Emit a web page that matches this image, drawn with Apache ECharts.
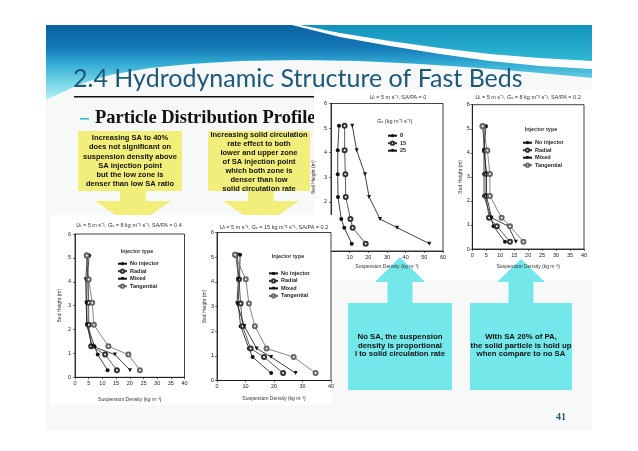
<!DOCTYPE html>
<html>
<head>
<meta charset="utf-8">
<script src="https://cdn.jsdelivr.net/npm/echarts@6/dist/echarts.min.js"></script>
<style>
  html, body { margin: 0; padding: 0; background: #fff; }
  #slide { width: 638px; height: 451px; }
</style>
</head>
<body>
<div id="slide"></div>
<script>
// probe heights in the riser (m), shared by every profile
var heights = [5.1, 4.1, 3.12, 2.2, 1.3, 0.95, 0.3];

// chart A: SA/PA = 0, three solid circulation rates
var gs8  = [4.3, 3.6, 3.6, 3.75, 5.5, 7.1, 11.1];
var gs15 = [7.3, 7.3, 7.7, 7.9, 10.4, 11.6, 18.6];
var gs25 = [11.4, 13.75, 18.2, 20.4, 26.25, 35.4, 52.7];

// chart B: Gs = 15, SA/PA = 0.2
var noInjB  = [8.1, 7.9, 7.4, 8.3, 11.2, 12.5, 19.0];
var radialB = [6.5, 7.7, 8.3, 9.0, 11.8, 16.5, 23.2];
var mixedB  = [7.2, 7.5, 7.0, 9.6, 13.9, 19.0, 27.6];
var tangB   = [6.3, 10.1, 11.2, 13.3, 17.4, 26.9, 34.6];

// chart C: Gs = 8, SA/PA = 0.4
var noInjC  = [5.2, 4.4, 4.3, 4.4, 7.1, 8.3, 11.9];
var radialC = [4.3, 4.8, 5.0, 5.0, 5.9, 11.0, 15.3];
var mixedC  = [4.6, 3.9, 4.1, 4.3, 6.3, 14.6, 20.1];
var tangC   = [4.3, 5.0, 6.3, 6.9, 12.2, 19.5, 23.7];

// chart D: Gs = 8, SA/PA = 0.2
var noInjD  = [4.9, 4.2, 4.2, 4.2, 6.7, 7.6, 11.7];
var radialD = [3.7, 4.5, 4.9, 4.9, 6.0, 8.8, 13.5];
var mixedD  = [4.2, 4.2, 5.1, 5.1, 6.9, 12.9, 15.6];
var tangD   = [3.7, 5.4, 6.3, 6.3, 10.5, 13.5, 18.3];

var injectorNames = ['No injector', 'Radial', 'Mixed', 'Tangential'];
var gsNames = ['8', '15', '25'];
var saLevel = 1.2;

var FONT = 'Liberation Sans';
var chart = echarts.init(document.getElementById('slide'));

function pts(vals) {
  return vals.map(function (v, i) { return [v, heights[i]]; });
}

var kinds = {
  filled:   { symbol: 'circle', color: '#111' },
  open:     { symbol: 'emptyCircle', color: '#333' },
  triangle: { symbol: 'triangle', rotate: 180, color: '#111' },
  openGrey: { symbol: 'emptyCircle', color: '#666' }
};

function line(name, gi, vals, kind, z, saText) {
  var s = {
    name: name, type: 'line', xAxisIndex: gi, yAxisIndex: gi,
    data: pts(vals), symbol: kind.symbol, symbolSize: 4, symbolRotate: kind.rotate || 0,
    lineStyle: { color: kind.color, width: 0.8 },
    itemStyle: { color: kind.color, borderWidth: 0.8 },
    z: z, silent: true, animation: false
  };
  if (saText) {
    s.markLine = {
      silent: true, symbol: 'none', animation: false,
      lineStyle: { color: '#8c8c8c', width: 0.8, type: 'solid' },
      label: { position: 'insideEndTop', formatter: saText, fontSize: 4.5, color: '#555', fontFamily: FONT, distance: 1 },
      data: [{ yAxis: saLevel }]
    };
  }
  return s;
}

function xAxis(gi, max, step, z, gap, extra) {
  return Object.assign({
    gridIndex: gi, type: 'value', min: 0, max: max, interval: step, z: z,
    axisLine: { show: true, onZero: false, lineStyle: { color: '#111', width: 0.8 } },
    axisTick: { show: true, length: 2, lineStyle: { color: '#111', width: 0.6 } },
    splitLine: { show: false },
    axisLabel: { fontSize: 5.5, color: '#222', margin: 3, fontFamily: FONT },
    name: 'Suspension Density (kg m⁻³)', nameLocation: 'middle', nameGap: gap,
    nameTextStyle: { fontSize: 5, color: '#333', fontFamily: FONT }
  }, extra || {});
}

function yAxis(gi, z, margin, gap, extra) {
  return Object.assign({
    gridIndex: gi, type: 'value', min: 0, max: 6, interval: 1, z: z,
    axisLine: { show: true, onZero: false, lineStyle: { color: '#111', width: 0.8 } },
    axisTick: { show: true, length: 2, lineStyle: { color: '#111', width: 0.6 } },
    splitLine: { show: false },
    axisLabel: { fontSize: 5.5, color: '#222', margin: margin, fontFamily: FONT },
    name: 'Bed Height (m)', nameLocation: 'middle', nameRotate: 90, nameGap: gap,
    nameTextStyle: { fontSize: 5, color: '#333', fontFamily: FONT }
  }, extra || {});
}

function legendAt(names, left, top) {
  return {
    data: names, left: left, top: top, orient: 'vertical', padding: 0,
    itemWidth: 9, itemHeight: 4, itemGap: 1.5, selectedMode: false, z: 13,
    textStyle: { fontSize: 5.5, fontWeight: 'bold', color: '#222', fontFamily: FONT, padding: [0, 0, 0, -2] }
  };
}

function grid(left, top, width, height, z) {
  return { left: left, top: top, width: width, height: height, show: true,
    borderColor: '#111', borderWidth: 0.8, backgroundColor: 'transparent', z: z };
}

// small text helper for the plot captions
function label(text, x, y, opts) {
  return {
    type: 'text', z: 13, silent: true,
    style: Object.assign({
      text: text, x: x, y: y, fontSize: 5.5, fontFamily: FONT, fill: '#333',
      align: 'center', verticalAlign: 'middle',
      rich: {
        i: { fontStyle: 'italic', fontSize: 5.5, fontFamily: FONT, fill: '#333' },
        s: { fontSize: 4, fontFamily: FONT, fill: '#333', verticalAlign: 'bottom' }
      }
    }, opts || {})
  };
}

function arrowUp(cx, tip, base, bottom, shaftHalf, headHalf) {
  return [[cx, tip], [cx + headHalf, base], [cx + shaftHalf, base], [cx + shaftHalf, bottom],
          [cx - shaftHalf, bottom], [cx - shaftHalf, base], [cx - headHalf, base]];
}
function arrowDown(cx, top, base, tip, shaftHalf, headHalf) {
  return [[cx - shaftHalf, top], [cx + shaftHalf, top], [cx + shaftHalf, base], [cx + headHalf, base],
          [cx, tip], [cx - headHalf, base], [cx - shaftHalf, base]];
}

// header band outline, drawn as plain polygons
var bandPts = [[46, 25], [592, 25], [592, 78], [540, 73], [480, 68], [420, 64], [360, 61], [300, 60],
  [240, 61], [190, 64], [150, 68], [110, 75], [80, 84], [46, 100]];
var tealPts = [[300, 25], [592, 25], [592, 61], [540, 58], [490, 54], [440, 48], [390, 41], [340, 33]];
var swooshPts = [[292, 25], [300, 25], [340, 33], [390, 41], [440, 48], [490, 54], [540, 58], [592, 61],
  [592, 69], [540, 66], [490, 61], [440, 54], [390, 46], [340, 37]];

function vgrad(stops) {
  return { type: 'linear', x: 0, y: 0, x2: 0, y2: 1,
    colorStops: stops.map(function (s) { return { offset: s[0], color: s[1] }; }) };
}

var YELLOW = '#f2ee7c';
var CYAN = '#74e7eb';

var graphics = [
  { type: 'rect', z: 0, silent: true, shape: { x: 46, y: 25, width: 546, height: 405 }, style: { fill: '#f7f8f8' } },
  { type: 'polygon', z: 1, silent: true, shape: { points: bandPts },
    style: { fill: vgrad([[0, '#0b62a0'], [0.3, '#1479b6'], [0.5, '#2fa9d2'], [0.75, '#6fd3e6'], [1, '#b5f0f6']]) } },
  { type: 'polygon', z: 2, silent: true, shape: { points: tealPts },
    style: { fill: vgrad([[0, '#1391bd'], [1, '#2fb9d4']]) } },
  { type: 'polygon', z: 3, silent: true, shape: { points: swooshPts }, style: { fill: '#ffffff' } },
  { type: 'text', z: 4, silent: true, style: { text: '2.4 Hydrodynamic Structure of Fast Beds', x: 73, y: 79,
    fontSize: 25, fontFamily: 'Lato', fill: '#1d5876', verticalAlign: 'middle' } },
  { type: 'rect', z: 4, silent: true, shape: { x: 74, y: 96, width: 242, height: 1.4 }, style: { fill: '#111' } },
  { type: 'rect', z: 4, silent: true, shape: { x: 80, y: 118, width: 9, height: 1.6 }, style: { fill: '#35c3d6' } },
  { type: 'text', z: 4, silent: true, style: { text: 'Particle Distribution Profile', x: 95, y: 118,
    fontSize: 18.5, fontWeight: 'bold', fontFamily: 'Liberation Serif', fill: '#111', verticalAlign: 'middle' } },

  // yellow call-outs
  { type: 'rect', z: 5, silent: true, shape: { x: 78, y: 131, width: 104, height: 60 }, style: { fill: YELLOW } },
  { type: 'polygon', z: 5, silent: true, shape: { points: arrowDown(133, 191, 201, 227, 13, 38) }, style: { fill: YELLOW } },
  { type: 'text', z: 5, silent: true, style: { text: 'Increasing SA to 40%\ndoes not significant on\nsuspension density above\nSA injection point\nbut the low zone is\ndenser than low SA ratio',
    x: 130, y: 161, align: 'center', verticalAlign: 'middle', lineHeight: 9.1, fontSize: 7.5, fontWeight: 'bold', fontFamily: FONT, fill: '#111' } },
  { type: 'rect', z: 5, silent: true, shape: { x: 208, y: 131, width: 102, height: 60 }, style: { fill: YELLOW } },
  { type: 'polygon', z: 5, silent: true, shape: { points: arrowDown(261, 191, 201, 227, 13, 38) }, style: { fill: YELLOW } },
  { type: 'text', z: 5, silent: true, style: { text: 'Increasing solid circulation\nrate effect to both\nlower and upper zone\nof SA injection point\nwhich both zone is\ndenser than low\nsolid circulation rate',
    x: 259, y: 162.2, align: 'center', verticalAlign: 'middle', lineHeight: 9.05, fontSize: 7.5, fontWeight: 'bold', fontFamily: FONT, fill: '#111' } },

  // plot backgrounds (pasted pictures)
  { type: 'rect', z: 6, silent: true, shape: { x: 314, y: 90, width: 146, height: 190 }, style: { fill: '#fff' } },
  { type: 'rect', z: 6, silent: true, shape: { x: 460, y: 90, width: 132, height: 190 }, style: { fill: '#fff' } },
  { type: 'rect', z: 6, silent: true, shape: { x: 50, y: 215, width: 150, height: 190 }, style: { fill: '#fff' } },
  { type: 'rect', z: 9, silent: true, shape: { x: 200, y: 215, width: 132, height: 190 }, style: { fill: '#fff' } },

  // cyan call-outs
  { type: 'rect', z: 12, silent: true, shape: { x: 348, y: 303, width: 104, height: 87 }, style: { fill: CYAN } },
  { type: 'polygon', z: 12, silent: true, shape: { points: arrowUp(400, 257, 282, 303, 12.5, 25) }, style: { fill: CYAN } },
  { type: 'text', z: 13, silent: true, style: { text: 'No SA, the suspension\ndensity is proportional\nl to solid circulation rate',
    x: 400, y: 345.5, align: 'center', verticalAlign: 'middle', lineHeight: 8.8, fontSize: 7.8, fontWeight: 'bold', fontFamily: FONT, fill: '#111' } },
  { type: 'rect', z: 12, silent: true, shape: { x: 470, y: 303, width: 102, height: 87 }, style: { fill: CYAN } },
  { type: 'polygon', z: 12, silent: true, shape: { points: arrowUp(521, 259, 282, 303, 12.5, 24) }, style: { fill: CYAN } },
  { type: 'text', z: 13, silent: true, style: { text: 'With SA 20% of PA,\nthe solid particle is hold up\nwhen compare to no SA',
    x: 521, y: 345.5, align: 'center', verticalAlign: 'middle', lineHeight: 8.8, fontSize: 7.8, fontWeight: 'bold', fontFamily: FONT, fill: '#111' } },

  // plot captions
  label('{i|U}{s|t} = 5 m s⁻¹, SA/PA = 0', 398, 97),
  label('{i|U}{s|t} = 5 m s⁻¹, {i|G}{s|s} = 8 kg m⁻² s⁻¹, SA/PA = 0.2', 528, 97),
  label('{i|U}{s|t} = 5 m s⁻¹, {i|G}{s|s} = 8 kg m⁻² s⁻¹, SA/PA = 0.4', 129, 225),
  label('{i|U}{s|t} = 5 m s⁻¹, {i|G}{s|s} = 15 kg m⁻² s⁻¹, SA/PA = 0.2', 274, 227),
  label('{i|G}{s|s} (kg m⁻² s⁻¹)', 377, 121, { align: 'left' }),
  label('Injector type', 541, 129, { fontWeight: 'bold' }),
  label('Injector type', 137, 251, { fontWeight: 'bold' }),
  label('Injector type', 288, 256, { fontWeight: 'bold' }),

  { type: 'text', z: 13, silent: true, style: { text: '41', x: 561, y: 417, align: 'center', verticalAlign: 'middle',
    fontSize: 10, fontWeight: 'bold', fontFamily: 'Liberation Serif', fill: '#2a5a70' } }
];

var option = {
  animation: false,
  backgroundColor: '#fff',
  graphic: { elements: graphics },
  grid: [
    grid(331, 103.5, 112, 147.5, 7),       // A
    grid(217, 232.5, 114, 148, 10),        // B
    grid(75, 234, 109.5, 143.3, 10),       // C
    grid(472.3, 104.7, 111.7, 144.3, 10)   // D
  ],
  xAxis: [
    xAxis(0, 60, 10, 13, 13, { axisLabel: { fontSize: 5.5, color: '#222', margin: 3, fontFamily: FONT, showMinLabel: false } }),
    xAxis(1, 40, 10, 10, 16),
    xAxis(2, 40, 5, 10, 20),
    xAxis(3, 40, 5, 13, 15)
  ],
  yAxis: [
    yAxis(0, 7, 4, 15),
    yAxis(1, 10, 3, 10),
    yAxis(2, 10, 4, 13),
    yAxis(3, 10, 2.5, 9)
  ],
  legend: [
    legendAt(gsNames, 387, 132.7),
    legendAt(injectorNames, 522, 139.7)
  ],
  series: [
    line(gsNames[0], 0, gs8, kinds.filled, 8),
    line(gsNames[1], 0, gs15, kinds.open, 8),
    line(gsNames[2], 0, gs25, kinds.triangle, 8),

    line(injectorNames[0], 1, noInjB, kinds.filled, 11, 'SA injection'),
    line(injectorNames[1], 1, radialB, kinds.open, 11),
    line(injectorNames[2], 1, mixedB, kinds.triangle, 11),
    line(injectorNames[3], 1, tangB, kinds.openGrey, 11),

    line(injectorNames[0], 2, noInjC, kinds.filled, 11, 'SA Injection'),
    line(injectorNames[1], 2, radialC, kinds.open, 11),
    line(injectorNames[2], 2, mixedC, kinds.triangle, 11),
    line(injectorNames[3], 2, tangC, kinds.openGrey, 11),

    line(injectorNames[0], 3, noInjD, kinds.filled, 11, 'SA injection'),
    line(injectorNames[1], 3, radialD, kinds.open, 11),
    line(injectorNames[2], 3, mixedD, kinds.triangle, 11),
    line(injectorNames[3], 3, tangD, kinds.openGrey, 11)
  ]
};

// same injector legend repeated inside plots B and C
option.legend.push(legendAt(injectorNames, 117, 260.7));
option.legend.push(legendAt(injectorNames, 268, 270.4));

chart.setOption(option);
</script>
</body>
</html>
